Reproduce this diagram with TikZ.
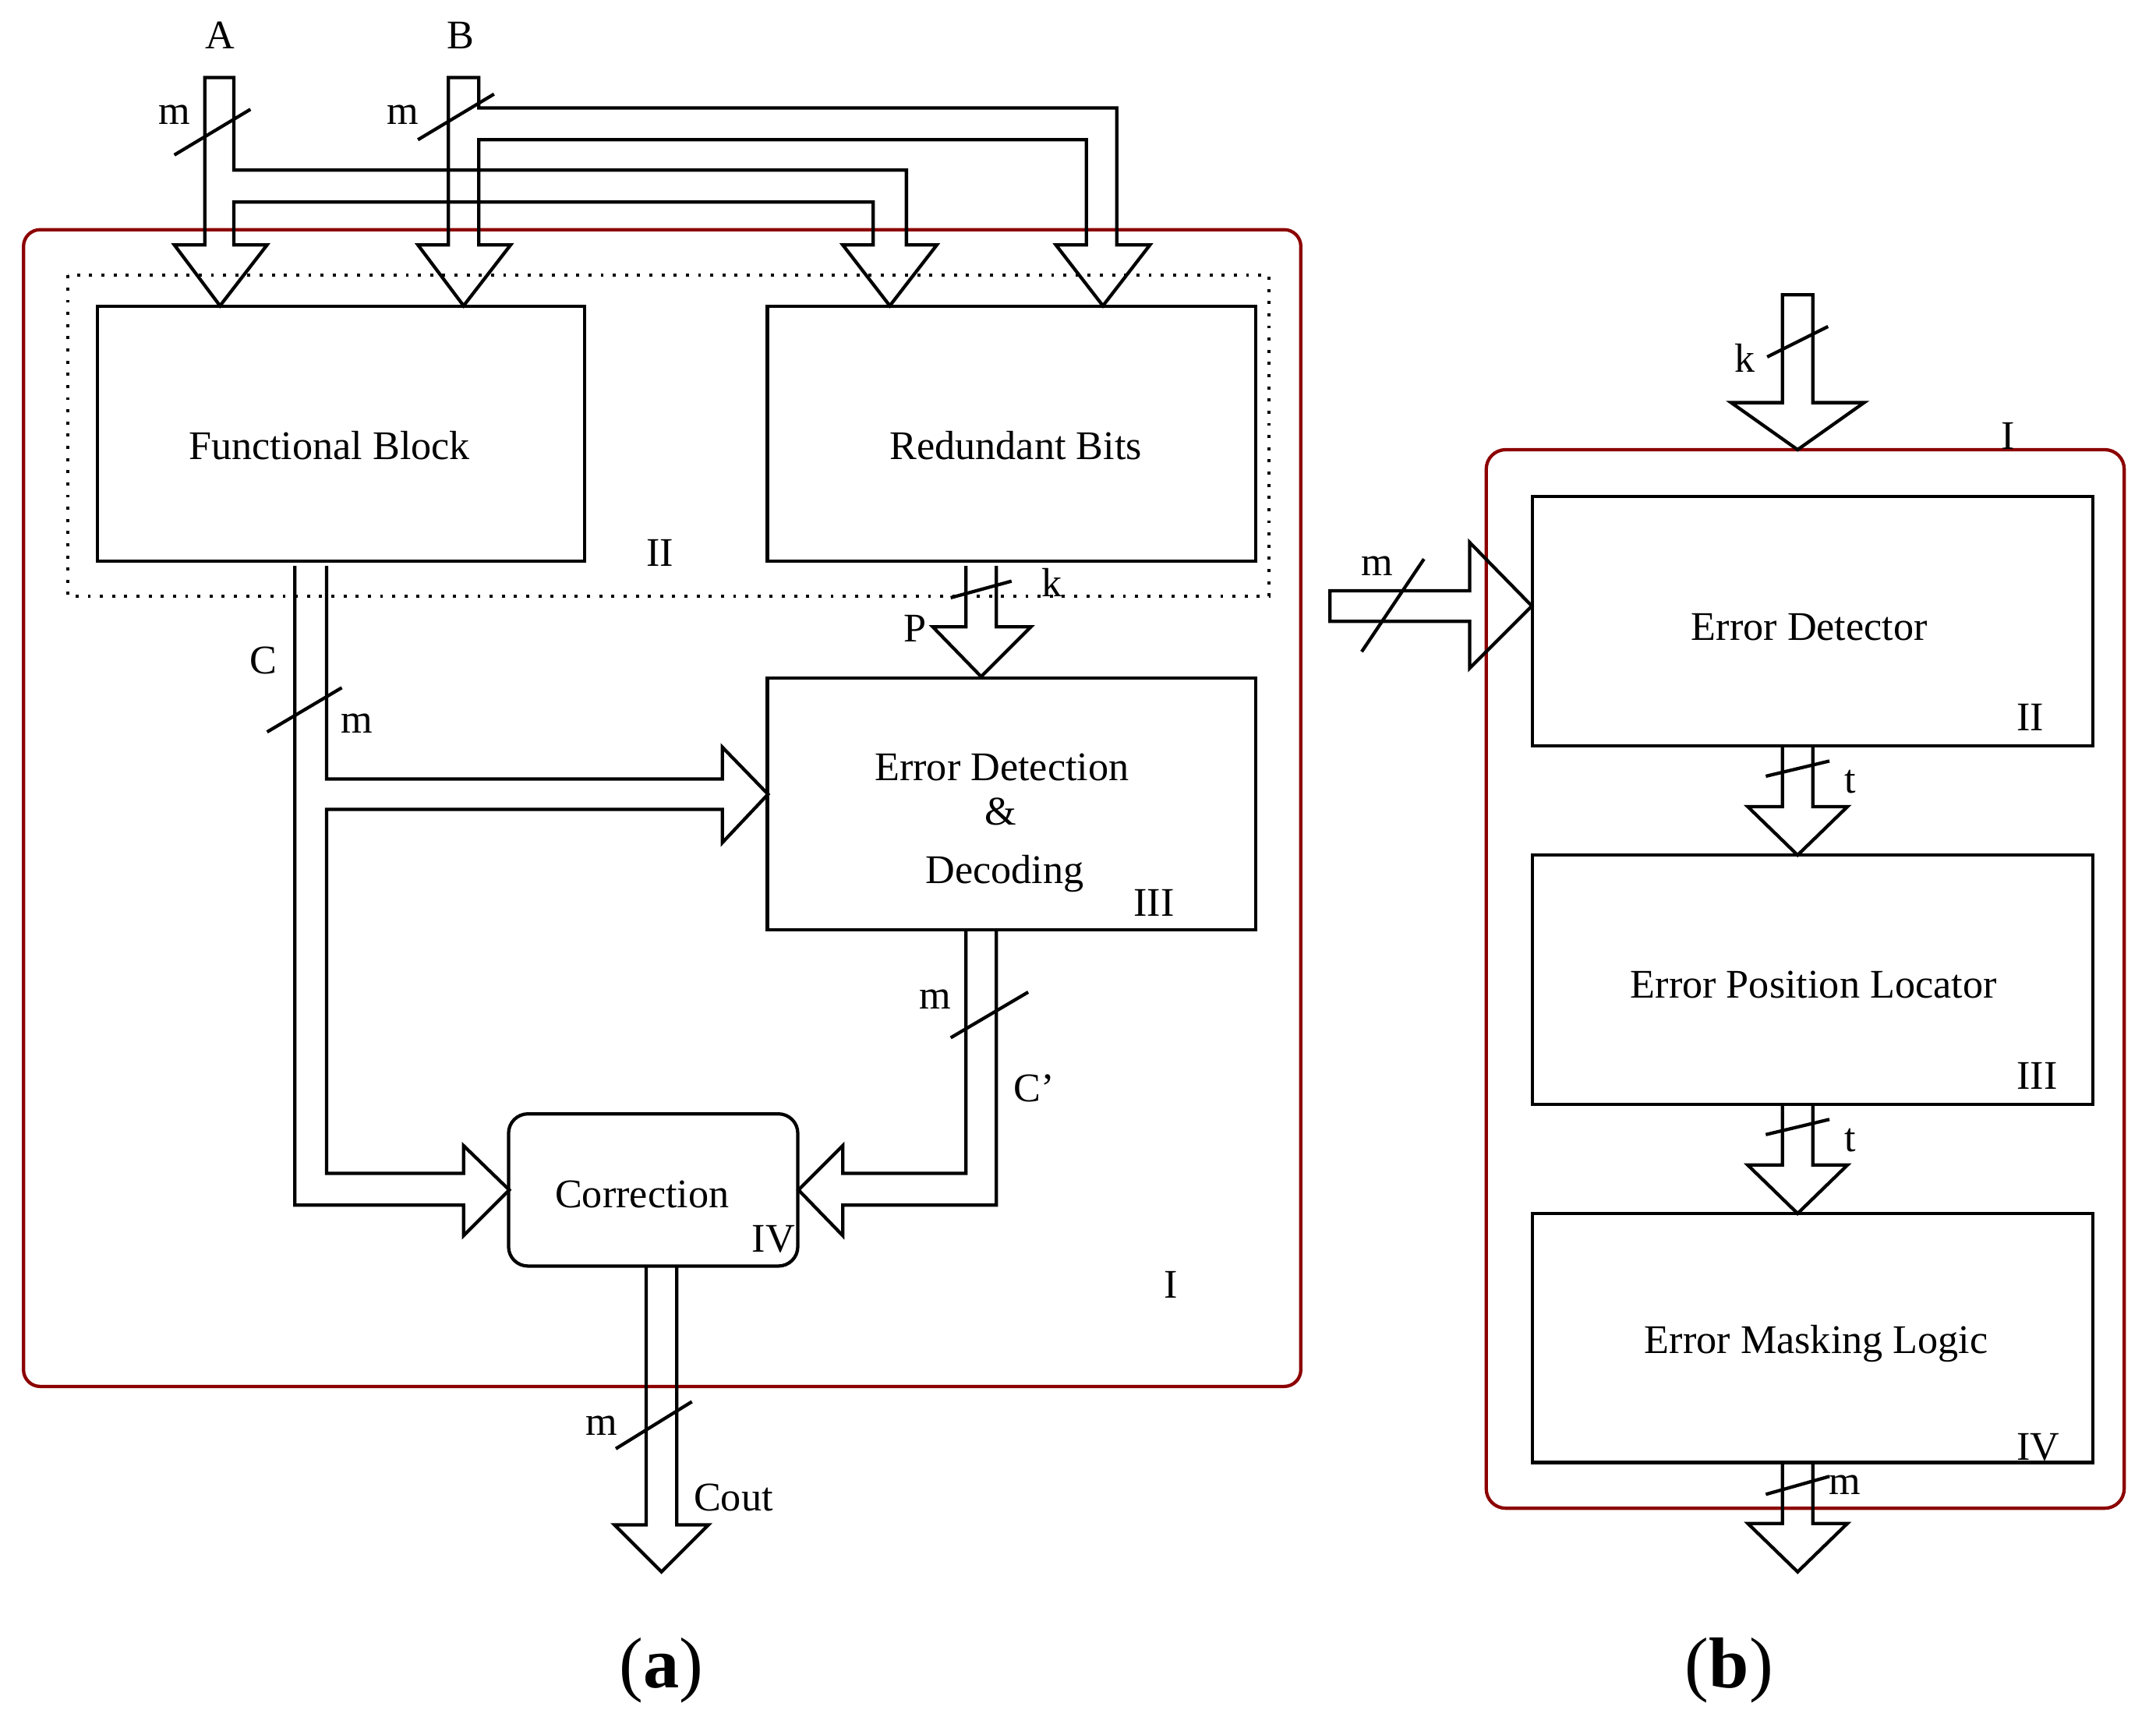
\documentclass[tikz,border=0pt]{standalone}
\usepackage{fontspec}
\setmainfont{Liberation Serif}
\usepackage{xcolor}
\usetikzlibrary{arrows,shapes}
\definecolor{framered}{RGB}{140,0,0}

\begin{document}
\begin{tikzpicture}[x=0.5pt,y=-0.5pt,
        every node/.style={font=\fontsize{14.7pt}{17pt}\selectfont, inner sep=0pt, anchor=base},
        blk/.style={draw, line width=1.2pt, rectangle, anchor=center},
        bus/.style={line width=1.2pt},
        slash/.style={line width=1.2pt},
        frame/.style={draw=framered, line width=1.2pt},
        partlabel/.style={font=\fontsize{26pt}{30pt}\selectfont}]
    \useasboundingbox (0,0) rectangle (1558,1251);

    % (a)
    \draw[frame, rounded corners=6pt] (17,166) rectangle (940,1002);
    \draw[line width=1.1pt, dash pattern=on 1.1pt off 3.3pt] (49,199) rectangle (917,431);
    \node[blk, minimum width=176pt, minimum height=92pt] (fb) at (246.5,313.5) {};
    \node[blk, minimum width=176.5pt, minimum height=92pt] (rb) at (731,313.5) {};
    \node[blk, minimum width=176.5pt, minimum height=91pt] (edd) at (731,581) {};
    \node[blk, minimum width=104.5pt, minimum height=55pt, rounded corners=7pt] (corr) at (472,860) {};

    \draw[bus] (148,56) -- (148,177) -- (126,177) -- (159,221) -- (193,177) -- (169,177) -- (169,146)
        -- (631,146) -- (631,177) -- (609,177) -- (643,221) -- (677,177) -- (655,177) -- (655,123)
        -- (169,123) -- (169,56) -- cycle;
    \draw[bus] (324,56) -- (324,177) -- (302,177) -- (335,221) -- (369,177) -- (346,177) -- (346,101)
        -- (785,101) -- (785,177) -- (763,177) -- (797,221) -- (831,177) -- (807,177) -- (807,78)
        -- (346,78) -- (346,56) -- cycle;
    \draw[bus] (213,409) -- (213,871) -- (335,871) -- (335,893) -- (368,860) -- (335,828) -- (335,848)
        -- (236,848) -- (236,585) -- (522,585) -- (522,609) -- (555,574) -- (522,540) -- (522,563)
        -- (236,563) -- (236,409);
    \draw[bus] (698,409) -- (698,453) -- (674,453) -- (709,489) -- (745,453) -- (720,453) -- (720,409);
    \draw[bus] (698,673) -- (698,848) -- (609,848) -- (609,828) -- (577,860) -- (609,893) -- (609,871)
        -- (720,871) -- (720,673);
    \draw[bus] (467,915) -- (467,1102) -- (444,1102) -- (478,1136) -- (512,1102) -- (489,1102) -- (489,915);

    \draw[slash] (126,112) -- (181,79);
    \draw[slash] (302,101) -- (357,68);
    \draw[slash] (193,529) -- (247,497);
    \draw[slash] (687,432) -- (731,420);
    \draw[slash] (687,750) -- (743,717);
    \draw[slash] (445,1047) -- (500,1013);

    \node (lA) at (159,35) {A};
    \node (lB) at (333,35) {B};
    \node (mA) at (126,90) {m};
    \node (mB) at (291,90) {m};
    \node (fbt) at (238,332) {Functional Block};
    \node (rbt) at (734,332) {Redundant Bits};
    \node (n2a) at (477,409) {II};
    \node (lC) at (190.5,487) {C};
    \node (mC) at (258,530) {m};
    \node (lP) at (661,464) {P};
    \node (kP) at (760,431) {k};
    \node (eddt1) at (724,564) {Error Detection};
    \node (eddt2) at (723,596) {\&};
    \node (eddt3) at (726,638.5) {Decoding};
    \node (n3a) at (834,662) {III};
    \node (mCp) at (676,729) {m};
    \node[anchor=base west] (lCp) at (732,796) {C’};
    \node (corrt) at (464,873) {Correction};
    \node (n4a) at (559,905) {IV};
    \node (n1a) at (846,938) {I};
    \node (mout) at (434.5,1037) {m};
    \node[anchor=base west] (lout) at (501,1092) {Cout};
    \node[partlabel] (capa) at (478,1220) {(\textbf{a})};

    % (b)
    \draw[frame, rounded corners=7pt] (1074,325) rectangle (1535,1090);
    \node[blk, minimum width=202.5pt, minimum height=90pt] (ed) at (1310,449) {};
    \node[blk, minimum width=202.5pt, minimum height=90pt] (epl) at (1310,708) {};
    \node[blk, minimum width=202.5pt, minimum height=90pt] (eml) at (1310,967) {};

    \draw[bus] (1288,213) -- (1288,291) -- (1251,291) -- (1299,325) -- (1347,291) -- (1310,291) -- (1310,213) -- cycle;
    \draw[bus] (961,427) -- (1062,427) -- (1062,392) -- (1107,438) -- (1062,483) -- (1062,449) -- (961,449) -- cycle;
    \draw[bus] (1288,539) -- (1288,583) -- (1263,583) -- (1299,618) -- (1335,583) -- (1310,583) -- (1310,539);
    \draw[bus] (1288,798) -- (1288,842) -- (1263,842) -- (1299,877) -- (1335,842) -- (1310,842) -- (1310,798);
    \draw[bus] (1288,1057) -- (1288,1101) -- (1263,1101) -- (1299,1136) -- (1335,1101) -- (1310,1101) -- (1310,1057);

    \draw[slash] (1277,258) -- (1321,236);
    \draw[slash] (984,471) -- (1029,404);
    \draw[slash] (1276,561) -- (1322,550);
    \draw[slash] (1276,820) -- (1322,809);
    \draw[slash] (1276,1080) -- (1322,1067);

    \node (kb) at (1261,269) {k};
    \node (n1b) at (1451,325) {I};
    \node (mb) at (995,416) {m};
    \node (edt) at (1307.5,463) {Error Detector};
    \node[anchor=base west] (n2b) at (1457,528) {II};
    \node (t1) at (1337,573) {t};
    \node (eplt) at (1310.5,721.5) {Error Position Locator};
    \node[anchor=base west] (n3b) at (1457,787) {III};
    \node (t2) at (1337,832) {t};
    \node (emlt) at (1312.5,978) {Error Masking Logic};
    \node[anchor=base west] (n4b) at (1457,1055) {IV};
    \node (mbout) at (1333,1080) {m};
    \node[partlabel] (capb) at (1249.5,1220) {(\textbf{b})};
\end{tikzpicture}
\end{document}
